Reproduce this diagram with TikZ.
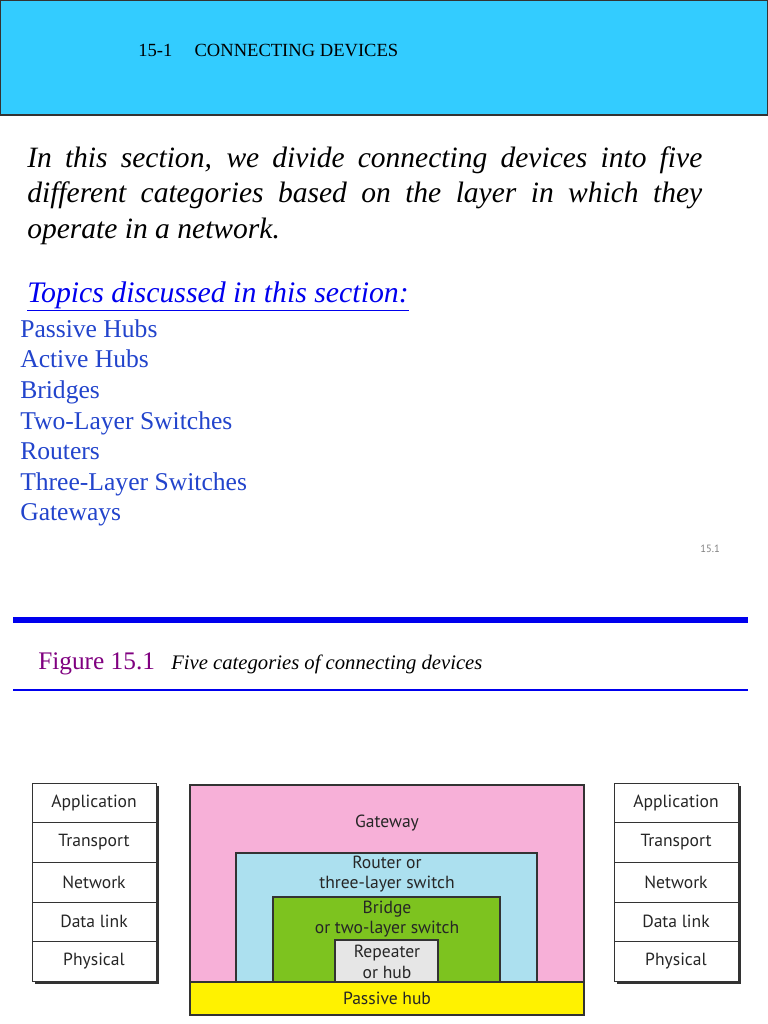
\documentclass[tikz,border=0pt]{standalone}
\usepackage{fontspec}
\setmainfont{Liberation Serif}
\newfontfamily\figfont{PT Sans}
\usepackage{xcolor}
\definecolor{headblue}{HTML}{33CCFF}
\definecolor{topicblue}{HTML}{0000EE}
\definecolor{listblue}{RGB}{34,68,204}
\definecolor{figpurple}{HTML}{800080}
\definecolor{gwpink}{HTML}{F7B0D8}
\definecolor{rtblue}{HTML}{ACE0EF}
\definecolor{brgreen}{HTML}{7DC31F}
\definecolor{rpgray}{HTML}{E6E6E6}
\definecolor{edge}{HTML}{333333}

\tikzset{
  layerbox/.style={draw=edge,fill=white,minimum width=3.1cm,minimum height=0.99cm,
    inner sep=0pt,text=black!85,font=\figfont\fontsize{12.5}{14}\selectfont},
  devlabel/.style={align=center,inner sep=0pt,text=black!85,font=\figfont\fontsize{12.5}{14.5}\selectfont},
  devbox/.style={draw=edge,line width=0.8pt}
}

\begin{document}
\begin{tikzpicture}[x=0.025cm,y=-0.025cm]
    \fill[white] (0,0) rectangle (768,1024);
    \useasboundingbox (0,0) rectangle (768,1024);
    % header bar
    \draw[fill=headblue,draw=edge,line width=1pt] (0.5,0.5) rectangle (767.5,115);
    \node[anchor=base west,inner sep=0pt,font=\fontsize{13.2}{15}\selectfont] (title) at (138,57)
        {15-1\hspace{1.2em}CONNECTING DEVICES};
    % intro text
    \node[anchor=north west,inner sep=0pt,text width=675*0.025cm,align=justify,
        font=\itshape\fontsize{21}{25.5}\selectfont] (intro) at (27,146)
        {In this section, we divide connecting devices into five\linebreak
         different categories based on the layer in which they\linebreak
         operate in a network.};
    \node[anchor=base west,inner sep=0pt,text=topicblue,font=\itshape\fontsize{21.2}{25}\selectfont] (topics) at (27,302)
        {\underline{Topics discussed in this section:}};
    \node[anchor=north west,inner sep=0pt,align=left,text=listblue,
        font=\fontsize{18.2}{21.8}\selectfont] (list) at (20,319)
        {Passive Hubs\\Active Hubs\\Bridges\\Two-Layer Switches\\Routers\\Three-Layer Switches\\Gateways};
    \node[text=gray,font=\figfont\fontsize{7.5}{9}\selectfont] (pageno) at (710,549) {15.1};
    % figure caption
    \draw[topicblue,line width=4.3pt] (13,620)--(748,620);
    \node[anchor=base west,inner sep=0pt,text=figpurple,font=\fontsize{18}{20}\selectfont] (fignum) at (38,669) {Figure 15.1};
    \node[anchor=base west,inner sep=0pt,font=\itshape\fontsize{14.7}{17}\selectfont] (figcap) at (171,669) {Five categories of connecting devices};
    \draw[topicblue,line width=1.5pt] (13,690)--(748,690);
    % layer stacks
    \fill[edge] (35,786) rectangle (159,984);
    \fill[edge] (617,786) rectangle (741,984);
    \foreach \lay [count=\i] in {Application,Transport,Network,Data link,Physical}{
        \node[layerbox] (L\i) at (94,763.2+39.6*\i) {\lay};
        \node[layerbox] (R\i) at (676,763.2+39.6*\i) {\lay};
    }
    % nested device boxes
    \draw[devbox,fill=gwpink] (190,785) rectangle (584,982);
    \draw[devbox,fill=rtblue] (236,853) rectangle (537,982);
    \draw[devbox,fill=brgreen] (273,897) rectangle (500,982);
    \draw[devbox,fill=rpgray] (335,940) rectangle (438,982);
    \draw[devbox,fill=yellow] (190,982) rectangle (584,1015);
    \node[devlabel] (gateway) at (387,823) {Gateway};
    \node[devlabel] (router) at (387,874) {Router or\\three-layer switch};
    \node[devlabel] (bridge) at (387,919) {Bridge\\or two-layer switch};
    \node[devlabel] (repeater) at (387,962) {Repeater\\or hub};
    \node[devlabel] (passive) at (387,998) {Passive hub};
\end{tikzpicture}
\end{document}
